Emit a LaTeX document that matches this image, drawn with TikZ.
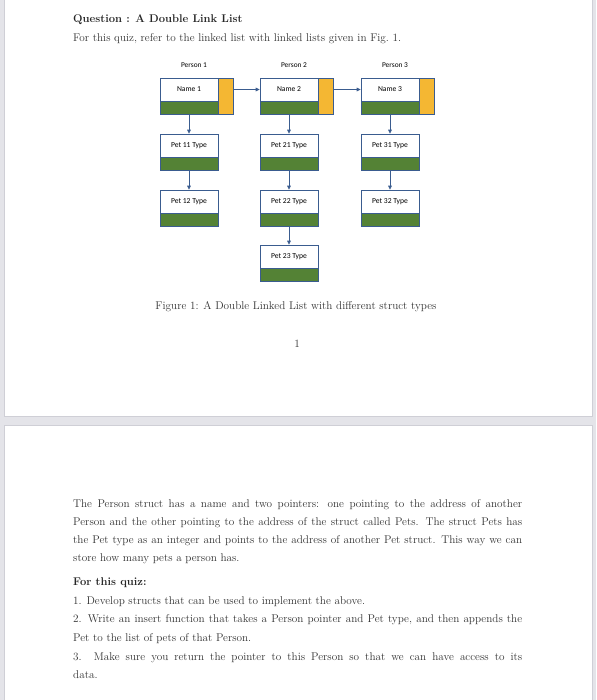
\documentclass[tikz,border=0pt]{standalone}
\usepackage{fontspec}
\newfontfamily\diagfont{Carlito}
\usetikzlibrary{positioning,arrows.meta}
\definecolor{cPage}{HTML}{E4E4E9}
\definecolor{cEdge}{HTML}{CFCFD6}
\definecolor{cLine}{HTML}{3A5C8F}
\definecolor{cField}{HTML}{548235}
\definecolor{cNext}{HTML}{F4B733}
\definecolor{cText}{HTML}{333333}

\begin{document}
\begin{tikzpicture}[
  x=1pt, y=-1pt,
  >={Triangle[length=4pt,width=3.6pt]},
  namebox/.style={rectangle, draw=cLine, line width=0.6pt, fill=white,
                  minimum width=58pt, minimum height=23pt, inner sep=0pt,
                  font=\diagfont\fontsize{7.6}{9}\selectfont},
  datafield/.style={rectangle, draw=cLine, line width=0.6pt, fill=cField,
                    minimum width=58pt, minimum height=13pt, inner sep=0pt},
  nextfield/.style={rectangle, draw=cLine, line width=0.6pt, fill=cNext,
                    minimum width=15pt, minimum height=36pt, inner sep=0pt},
  head/.style={font=\diagfont\fontsize{7.4}{9}\selectfont, inner sep=0pt},
  flow/.style={->, line width=0.8pt, draw=cLine},
  body/.style={text=cText, inner sep=0pt, anchor=base west, font=\fontsize{11.2}{18}\selectfont},
]
\path[use as bounding box] (0,0) rectangle (596,700);

% ---- pages ----
\fill[cPage] (0,0) rectangle (596,700);
\filldraw[fill=white, draw=cEdge, line width=1pt] (4,-5) rectangle (592,416);
\filldraw[fill=white, draw=cEdge, line width=1pt] (4,425) rectangle (592,706);

% ---- page 1: question ----
\node[body, font=\fontsize{11.2}{18}\selectfont\bfseries, text=black!85] (title) at (73,23) {Question : A Double Link List};
\node[body] (intro) at (73,42) {For this quiz, refer to the linked list with linked lists given in Fig.~1.};

% ---- Row 1: persons ----
\foreach \i/\x in {1/189,2/289,3/390} {
  \node[namebox] (n\i) at (\x,89.5) {Name \i};
  \node[datafield, below=0pt of n\i] (g\i) {};
  \node[nextfield, anchor=north west] (o\i) at (n\i.north east) {};
  \node[head] (h\i) at (\x+5,65) {Person \i};
}

% ---- pet rows ----
\node[namebox] (p11) at (189,145.5) {Pet 11 Type};
\node[namebox] (p21) at (289,145.5) {Pet 21 Type};
\node[namebox] (p31) at (390,145.5) {Pet 31 Type};
\node[namebox] (p12) at (189,201.5) {Pet 12 Type};
\node[namebox] (p22) at (289,201.5) {Pet 22 Type};
\node[namebox] (p32) at (390,201.5) {Pet 32 Type};
\node[namebox] (p23) at (289,256.5) {Pet 23 Type};
\foreach \p in {p11,p21,p31,p12,p22,p32,p23}
  \node[datafield, below=0pt of \p] (\p g) {};

% ---- arrows ----
\draw[flow] (o1.east |- n1.east) -- (n2.west);
\draw[flow] (o2.east |- n2.east) -- (n3.west);
\foreach \a/\b in {g1/p11,g2/p21,g3/p31,p11g/p12,p21g/p22,p31g/p32,p22g/p23}
  \draw[flow] (\a.south) -- (\b.north);

\node[body, anchor=base] (caption) at (296,309) {Figure 1: A Double Linked List with different struct types};
\node[body, anchor=base] (pageno) at (297,347) {1};

% ---- page 2: task ----
\node[body, text width=449pt, align=justify] (para) at (73,507)
  {The Person struct has a name and two pointers: one pointing to the address of another\linebreak
   Person and the other pointing to the address of the struct called Pets. The struct Pets has\linebreak
   the Pet type as an integer and points to the address of another Pet struct. This way we can\linebreak
   store how many pets a person has.};
\node[body, font=\fontsize{11.2}{18}\selectfont\bfseries, text=black!85] (quiz) at (73,585) {For this quiz:};
\node[body, text width=449pt, align=justify, font=\fontsize{11.2}{18.7}\selectfont] (tasks) at (73,604)
  {1. Develop structs that can be used to implement the above.\par
   2. Write an insert function that takes a Person pointer and Pet type, and then appends the\linebreak
   Pet to the list of pets of that Person.\par
   3.\ \ Make sure you return the pointer to this Person so that we can have access to its\linebreak
   data.};
\end{tikzpicture}
\end{document}
